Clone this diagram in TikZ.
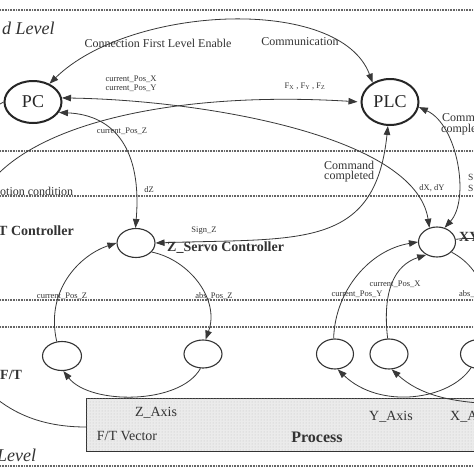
\documentclass[tikz,border=0pt]{standalone}
\usepackage{fontspec}
\setmainfont{Liberation Serif}
\usetikzlibrary{shapes.geometric,arrows.meta,patterns}
\newcommand\fsz[1]{\fontsize{#1}{#1}\selectfont}
\begin{document}
\begin{tikzpicture}[x=1pt,y=-1pt,
  ln/.style={draw=black!78, line width=0.8pt},
  arr/.style={ln,-{Triangle[length=9pt,width=6.5pt]}},
  barr/.style={ln,{Triangle[length=9pt,width=6.5pt]}-{Triangle[length=9pt,width=6.5pt]}},
  sepline/.style={draw=black!60, line width=0.7pt, dash pattern=on 0.8pt off 0.8pt},
  bigell/.style={ellipse, draw=black!85, line width=2pt, inner sep=0pt, text=black!85},
  smell/.style={ellipse, draw=black!80, line width=1.1pt, inner sep=0pt},
  txt/.style={inner sep=0pt, text=black!80},
  lbl/.style={txt, font=\fsz{12}},
  small/.style={txt, font=\fsz{8.5}},
  hd/.style={txt, font=\fsz{14}\bfseries},
  lev/.style={txt, font=\fsz{18}\itshape},
  box/.style={txt, font=\fsz{14}}
]
\useasboundingbox (0,0) rectangle (474,474);
\clip (0,0) rectangle (474,474);
\fill[white] (0,0) rectangle (474,474);

% separators
\foreach \yy in {10,151,196,300,327,466}{
  \draw[sepline] (0,\yy-0.8) -- (474,\yy-0.8);
  \draw[sepline] (0,\yy+0.8) -- (474,\yy+0.8);
}

% process box
\node[draw=black!80, line width=0.9pt, fill=black!8, postaction={pattern=dots, pattern color=black!25}, minimum width=430pt, minimum height=53pt, anchor=north west, inner sep=0pt] (Box) at (86,398) {};
\coordinate (ftv) at (86,427);

% main nodes
\node[bigell, minimum width=57pt, minimum height=42pt, font=\fsz{18}] (PC) at (33,102) {PC};
\node[bigell, minimum width=57pt, minimum height=46pt, font=\fsz{18}] (PLC) at (390,102) {PLC};
\node[smell, minimum width=38pt, minimum height=29pt] (Z) at (136,243) {};
\node[smell, minimum width=37pt, minimum height=30pt] (XY) at (437,242) {};
\node[smell, minimum width=39pt, minimum height=29pt] (S1) at (62,356) {};
\node[smell, minimum width=38pt, minimum height=28pt] (S2) at (203,354) {};
\node[smell, minimum width=37pt, minimum height=30pt] (S3) at (335,354) {};
\node[smell, minimum width=38pt, minimum height=30pt] (S4) at (389,354) {};
\node[smell, minimum width=37pt, minimum height=29pt] (S5) at (479,354) {};

\coordinate (offL) at (-12,111);
\coordinate (offR1) at (495,240);
\coordinate (offR2) at (490,300);
\coordinate (offR3) at (495,404);

% connectors
\draw[barr] (PC.48) .. controls (130,5) and (340,-5) .. (PLC.132);
\draw[barr] (PC.8) .. controls (200,100) and (415,135) .. (XY.118);
\draw[barr] (PC.-22) .. controls (115,115) and (142,150) .. (Z.92);
\draw[barr] (PLC.-95) .. controls (375,250) and (300,238) .. (Z.east);
\draw[barr] (PLC.-10) .. controls (458,125) and (470,200) .. (XY.62);
\draw[arr, shorten >=3pt] (ftv) .. controls (45,427) and (15,415) .. (-8,395)
   .. controls (-60,330) and (-40,200) .. (0,172)
   .. controls (60,115) and (200,92) .. (PLC.west);
\draw[ln] (PC.west) -- (offL);
\draw[arr] (S1.110) .. controls (45,290) and (80,255) .. (Z.west);
\draw[arr] (Z.-30) .. controls (190,260) and (220,300) .. (S2.80);
\draw[arr] (S2.-100) .. controls (180,405) and (90,405) .. (S1.-85);
\draw[arr] (S3.95) .. controls (335,290) and (370,250) .. (XY.west);
\draw[arr] (S4.95) .. controls (382,290) and (395,265) .. (XY.-130);
\draw[ln] (XY.8) .. controls (465,238) and (475,238) .. (offR1);
\draw[ln] (XY.-35) .. controls (470,262) and (478,275) .. (offR2);
\draw[arr] (S5.-120) .. controls (450,400) and (380,410) .. (S3.-80);
\draw[arr] (offR3) .. controls (450,402) and (420,395) .. (S4.-80);

% texts
\node[lev, anchor=west] (t1) at (2,28) {d Level};
\node[lbl] (t2) at (158,43) {Connection First Level Enable};
\node[lbl] (t3) at (300,42) {Communication};
\node[small] (t4) at (131,79) {current\_Pos\_X};
\node[small] (t5) at (131,88) {current\_Pos\_Y};
\node[small] (t6) at (305,86) {F\textsubscript{X} , F\textsubscript{Y} , F\textsubscript{Z}};
\node[small] (t7) at (122,131) {current\_Pos\_Z};
\node[lbl, anchor=west] (t8) at (442,118) {Comma};
\node[lbl, anchor=west] (t9) at (441,130) {comple};
\node[lbl, anchor=west] (t10) at (324,165) {Command};
\node[lbl, anchor=west] (t11) at (324,177) {completed};
\node[lbl, anchor=west] (t12) at (0,191) {otion condition};
\node[small] (t13) at (149,190) {dZ};
\node[small] (t14) at (432,188) {dX, dY};
\node[txt, font=\fsz{9.5}, anchor=west] (t15) at (468,177) {S};
\node[txt, font=\fsz{9.5}, anchor=west] (t16) at (468,188) {S};
\node[hd, anchor=west] (t17) at (-2,231) {T Controller};
\node[small] (t18) at (204,231) {Sign\_Z};
\node[hd, anchor=west] (t19) at (167,248) {Z\_Servo Controller};
\node[hd, anchor=west] (t20) at (459,237) {XY};
\node[small] (t21) at (395,284) {current\_Pos\_X};
\node[small] (t22) at (357,294) {current\_Pos\_Y};
\node[small] (t23) at (62,296) {current\_Pos\_Z};
\node[small] (t24) at (214,296) {abs\_Pos\_Z};
\node[small, anchor=west] (t25) at (459,294) {abs\_};
\node[hd, anchor=west] (t26) at (0,375) {F/T};
\node[box] (t27) at (156,413) {Z\_Axis};
\node[box] (t28) at (127,436) {F/T Vector};
\node[box] (t29) at (391,417) {Y\_Axis};
\node[box, anchor=west] (t30) at (450,417) {X\_A};
\node[txt, font=\fsz{16}\bfseries] (t31) at (317,437) {Process};
\node[lev, anchor=west] (t32) at (-3,455) {Level};
\end{tikzpicture}
\end{document}
